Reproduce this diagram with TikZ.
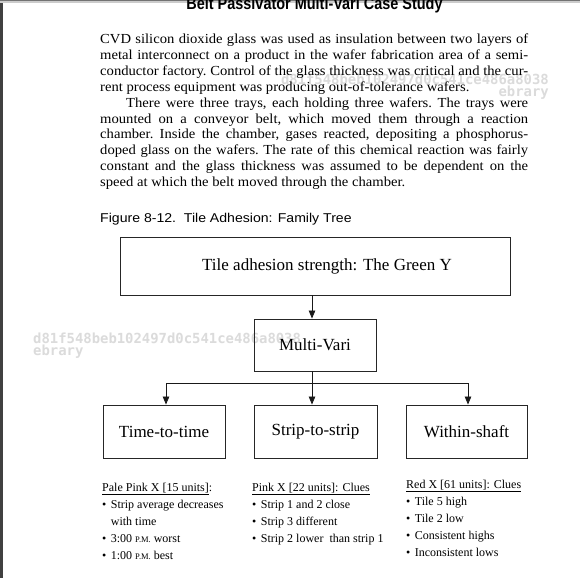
\documentclass[tikz,border=0pt]{standalone}
\usepackage{fontspec}
\usetikzlibrary{arrows.meta}
\newfontfamily\tnr{Liberation Serif}
\newfontfamily\bodyfont[FakeStretch=1.06]{Liberation Serif}
\newfontfamily\capfont[FakeStretch=1.1]{Liberation Sans}
\newfontfamily\titlefont[FakeStretch=0.85]{Liberation Sans}
\newfontfamily\wmfont{DejaVu Sans Mono}
\newcommand\pmtext{{\fontsize{8.5}{10}\selectfont P.M.}}
\begin{document}
\begin{tikzpicture}[x=1pt,y=-1pt,
  box/.style={draw=black!85, line width=0.9pt, inner sep=0pt, font=\tnr\fontsize{17}{20}\selectfont},
  conn/.style={line width=0.8pt, draw=black!90},
  arr/.style={conn, -{Triangle[length=8pt,width=6.5pt]}},
  wm/.style={text=black!14, font=\wmfont\bfseries\fontsize{13.9}{14}\selectfont, inner sep=0pt},
  col/.style={anchor=base west, inner sep=0pt, font=\tnr\fontsize{12}{17}\selectfont}]
\useasboundingbox (0,0) rectangle (580,578);
\clip (0,0) rectangle (580,578);
\fill[white] (0,0) rectangle (580,578);
% watermarks
\node[wm, anchor=base east] (wm1) at (549,84) {d81f548beb102497d0c541ce486a8038};
\node[wm, anchor=base east] (wm1b) at (549,96) {ebrary};
\node[wm, anchor=base west] (wm2) at (33,343) {d81f548beb102497d0c541ce486a8038};
\node[wm, anchor=base west] (wm2b) at (33,355) {ebrary};
% page edges
\fill[black!75] (0,0) rectangle (3.3,578);
\fill[black!55] (0,0) rectangle (580,1.5);
\fill[black!20] (0,1.5) rectangle (580,3);
% running title
\node[anchor=base, inner sep=0pt, font=\titlefont\bfseries\fontsize{17}{20}\selectfont] (title) at (314.5,9.5) {Belt Passivator Multi-Vari Case Study};
% body text
\node[anchor=base west, inner sep=0pt] (body) at (100,44) {\parbox[t]{428pt}{\bodyfont\fontsize{13.8}{15.8}\selectfont
\parindent=0pt \tolerance=9999 \hyphenpenalty=10000 \exhyphenpenalty=10000 \frenchspacing
CVD silicon dioxide glass was used as insulation between two layers of\linebreak
metal interconnect on a product in the wafer fabrication area of a semi-\linebreak
conductor factory. Control of the glass thickness was critical and the cur-\linebreak
rent process equipment was producing out-of-tolerance wafers.\par
\hspace*{26pt}There were three trays, each holding three wafers. The trays were\linebreak
mounted on a conveyor belt, which moved them through a reaction\linebreak
chamber. Inside the chamber, gases reacted, depositing a phosphorus-\linebreak
doped glass on the wafers. The rate of this chemical reaction was fairly\linebreak
constant and the glass thickness was assumed to be dependent on the\linebreak
speed at which the belt moved through the chamber.\par}};
% caption
\node[anchor=base west, inner sep=0pt, font=\capfont\fontsize{12.8}{14}\selectfont] (cap) at (100,222) {Figure 8-12.\ \ Tile Adhesion: Family Tree};
% boxes
\node[box, minimum width=390pt, minimum height=58pt] (top) at (315,266) {\hspace*{24pt}Tile adhesion strength: The Green Y};
\node[box, minimum width=122pt, minimum height=52pt] (mv) at (315,345) {Multi-Vari};
\node[box, minimum width=122pt, minimum height=53pt] (b1) at (164,431.5) {Time-to-time};
\node[box, minimum width=123pt, minimum height=53pt] (b2) at (315.5,431.5) {Strip-to-strip};
\node[box, minimum width=121pt, minimum height=53pt] (b3) at (466.5,431.5) {Within-shaft};
% connectors
\coordinate (jc) at (312,383);
\coordinate (jl) at (166,383);
\coordinate (jr) at (468,383);
\draw[arr] (top.south -| jc) -- (mv.north -| jc);
\draw[conn] (mv.south -| jc) -- (jc);
\draw[conn] (jl) -- (jr);
\draw[arr] (jl) -- (b1.north -| jl);
\draw[arr] (jc) -- (b2.north -| jc);
\draw[arr] (jr) -- (b3.north -| jr);
% clue lists
\node[col] (t1) at (102,491) {\begin{tabular}[t]{@{}l@{\hspace{4.5pt}}l@{}}
\multicolumn{2}{@{}l@{}}{\underline{Pale Pink X [15 units]}:}\\
\textbullet & Strip average decreases\\
 & with time\\
\textbullet & 3:00 \pmtext{} worst\\
\textbullet & 1:00 \pmtext{} best
\end{tabular}};
\node[col] (t2) at (252,491) {\begin{tabular}[t]{@{}l@{\hspace{4.5pt}}l@{}}
\multicolumn{2}{@{}l@{}}{\underline{Pink X [22 units]: Clues}}\\
\textbullet & Strip 1 and 2 close\\
\textbullet & Strip 3 different\\
\textbullet & Strip 2 lower\ \ than strip 1
\end{tabular}};
\node[col] (t3) at (406,488) {\begin{tabular}[t]{@{}l@{\hspace{4.5pt}}l@{}}
\multicolumn{2}{@{}l@{}}{\underline{Red X [61 units]: Clues}}\\
\textbullet & Tile 5 high\\
\textbullet & Tile 2 low\\
\textbullet & Consistent highs\\
\textbullet & Inconsistent lows
\end{tabular}};
\end{tikzpicture}
\end{document}
